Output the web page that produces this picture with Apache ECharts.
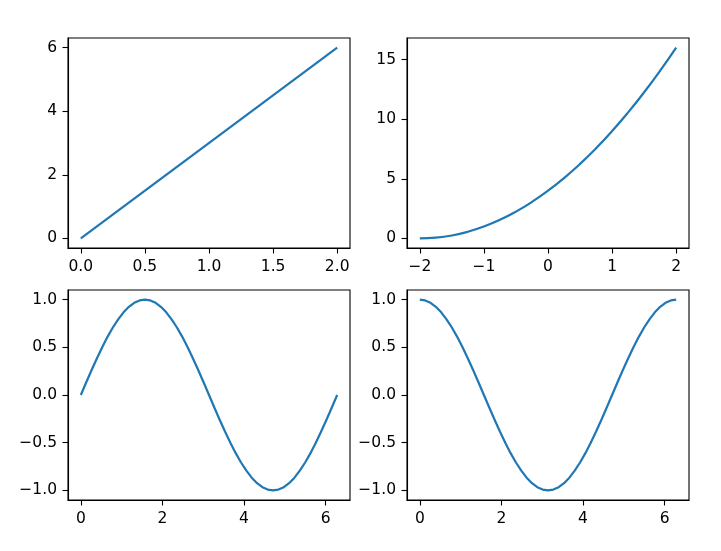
<!DOCTYPE html>
<html>
<head>
<meta charset="utf-8">
<script src="https://cdn.jsdelivr.net/npm/echarts@6/dist/echarts.min.js"></script>
<style>html,body{margin:0;padding:0;background:#fff;}#c{width:721px;height:551px;}</style>
</head>
<body>
<div id="c"></div>
<script>
// ---- data ----
const linX = [0, 2];
const linY = [0, 6];

const parX = [-2, -1.75, -1.5, -1.25, -1, -0.75, -0.5, -0.25, 0, 0.25, 0.5, 0.75, 1, 1.25, 1.5, 1.75, 2];
const parY = [0, 0.063, 0.25, 0.563, 1, 1.563, 2.25, 3.063, 4, 5.063, 6.25, 7.563, 9, 10.563, 12.25, 14.063, 16];

const trigX = [0, 0.131, 0.262, 0.393, 0.524, 0.654, 0.785, 0.916, 1.047, 1.178, 1.309, 1.440, 1.571,
               1.702, 1.833, 1.963, 2.094, 2.225, 2.356, 2.487, 2.618, 2.749, 2.880, 3.011, 3.142,
               3.272, 3.403, 3.534, 3.665, 3.796, 3.927, 4.058, 4.189, 4.320, 4.451, 4.581, 4.712,
               4.843, 4.974, 5.105, 5.236, 5.367, 5.498, 5.629, 5.760, 5.890, 6.021, 6.152, 6.283];
const sinY = [0, 0.131, 0.259, 0.383, 0.5, 0.609, 0.707, 0.793, 0.866, 0.924, 0.966, 0.991, 1,
              0.991, 0.966, 0.924, 0.866, 0.793, 0.707, 0.609, 0.5, 0.383, 0.259, 0.131, 0,
              -0.131, -0.259, -0.383, -0.5, -0.609, -0.707, -0.793, -0.866, -0.924, -0.966, -0.991, -1,
              -0.991, -0.966, -0.924, -0.866, -0.793, -0.707, -0.609, -0.5, -0.383, -0.259, -0.131, 0];
const cosY = [1, 0.991, 0.966, 0.924, 0.866, 0.793, 0.707, 0.609, 0.5, 0.383, 0.259, 0.131, 0,
              -0.131, -0.259, -0.383, -0.5, -0.609, -0.707, -0.793, -0.866, -0.924, -0.966, -0.991, -1,
              -0.991, -0.966, -0.924, -0.866, -0.793, -0.707, -0.609, -0.5, -0.383, -0.259, -0.131, 0,
              0.131, 0.259, 0.383, 0.5, 0.609, 0.707, 0.793, 0.866, 0.924, 0.966, 0.991, 1];

// tick labels
const linXTicks = [0, 0.5, 1, 1.5, 2];
const linYTicks = [0, 2, 4, 6];
const parXTicks = [-2, -1, 0, 1, 2];
const parYTicks = [0, 5, 10, 15];
const trigXTicks = [0, 2, 4, 6];
const trigYTicks = [-1, -0.5, 0, 0.5, 1];

// ---- chart ----
const FONT = 'DejaVu Sans';
const FS = 15.5;
const LINE = '#1f77b4';
const minus = s => String(s).replace('-', '\u2212');
const fmt1 = v => minus(Number(v).toFixed(1));
const fmt0 = v => minus(Number(v).toFixed(0));

function pad(lo, hi) { const d = (hi - lo) * 0.05; return [lo - d, hi + d]; }

function axis(idx, range, ticks, f, margin) {
  return {
    type: 'value', gridIndex: idx, min: range[0], max: range[1],
    axisLine: { show: true, onZero: false, lineStyle: { color: '#000', width: 1.1 } },
    splitLine: { show: false },
    axisTick: { show: true, inside: false, length: 5.5, customValues: ticks, lineStyle: { color: '#000', width: 1.1 } },
    axisLabel: { customValues: ticks, formatter: f, color: '#000', fontFamily: FONT, fontSize: FS, margin: margin }
  };
}
function grid(left, top) {
  return { left: left, top: top, width: 282, height: 210, show: true, borderColor: '#000', borderWidth: 1.1, backgroundColor: '#fff' };
}
function series(idx, xs, ys, smooth) {
  return {
    type: 'line', xAxisIndex: idx, yAxisIndex: idx,
    data: xs.map((x, i) => [x, ys[i]]),
    showSymbol: false, smooth: smooth,
    lineStyle: { color: LINE, width: 2.2, join: 'round', cap: 'butt' }, itemStyle: { color: LINE },
    animation: false
  };
}

const chart = echarts.init(document.getElementById('c'), null, { renderer: 'canvas' });
chart.setOption({
  animation: false,
  backgroundColor: '#fff',
  grid: [grid(68, 38), grid(407, 38), grid(68, 290), grid(407, 290)],
  xAxis: [
    axis(0, pad(0, 2), linXTicks, fmt1, 11),
    axis(1, pad(-2, 2), parXTicks, fmt0, 11),
    axis(2, pad(0, 6.2832), trigXTicks, fmt0, 11),
    axis(3, pad(0, 6.2832), trigXTicks, fmt0, 11)
  ],
  yAxis: [
    axis(0, pad(0, 6), linYTicks, fmt0, 11),
    axis(1, pad(0, 16), parYTicks, fmt0, 11),
    axis(2, pad(-1, 1), trigYTicks, fmt1, 11),
    axis(3, pad(-1, 1), trigYTicks, fmt1, 11)
  ],
  series: [
    series(0, linX, linY, false),
    series(1, parX, parY, true),
    series(2, trigX, sinY, false),
    series(3, trigX, cosY, false)
  ]
});
</script>
</body>
</html>
